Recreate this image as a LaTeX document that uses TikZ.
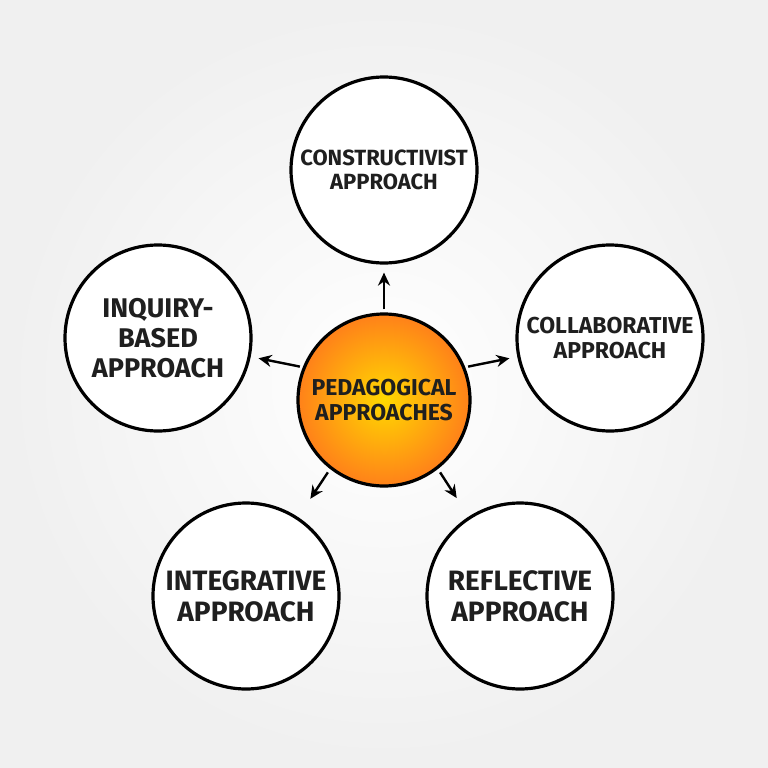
\documentclass[tikz,border=0pt]{standalone}
\usepackage{fontspec}
\setmainfont{Fira Sans}
\usetikzlibrary{arrows.meta}
\begin{document}
\begin{tikzpicture}[x=1pt,y=-1pt,
  outer/.style={circle,draw=black,line width=3.2pt,fill=white,minimum size=186pt,inner sep=0pt,align=center},
  conn/.style={-{Stealth[length=13pt,width=12pt]},line width=2.4pt},
  every node/.style={text=black!88}]
\useasboundingbox (0,0) rectangle (768,768);
\shade[inner color=white,outer color=black!6] (0,0) rectangle (768,768);
\node[outer,font=\bfseries\fontsize{22}{24}\selectfont] (top) at (384,170) {CONSTRUCTIVIST\\APPROACH};
\node[outer,font=\bfseries\fontsize{23}{25}\selectfont] (right) at (610,338) {COLLABORATIVE\\APPROACH};
\node[outer,font=\bfseries\fontsize{27}{30}\selectfont] (left) at (158,338) {INQUIRY-\\BASED\\APPROACH};
\node[outer,font=\bfseries\fontsize{28}{31}\selectfont] (bl) at (246,596) {INTEGRATIVE\\APPROACH};
\node[outer,font=\bfseries\fontsize{28}{31}\selectfont] (br) at (520,596) {REFLECTIVE\\APPROACH};
\node[circle,draw=black,line width=3.2pt,inner color=yellow!70!orange,outer color=orange!90!red!90,minimum size=172pt,inner sep=0pt,align=center,font=\bfseries\fontsize{23}{25}\selectfont] (c) at (384,400) {PEDAGOGICAL\\APPROACHES};
\draw[conn,shorten <=3pt,shorten >=8pt] (c) -- (top);
\draw[conn,shorten <=3pt,shorten >=8pt] (c.22) -- (right);
\draw[conn,shorten <=3pt,shorten >=8pt] (c.158) -- (left);
\draw[conn,shorten <=4pt,shorten >=22pt] (c.232) -- (bl);
\draw[conn,shorten <=4pt,shorten >=22pt] (c.308) -- (br);
\end{tikzpicture}
\end{document}
